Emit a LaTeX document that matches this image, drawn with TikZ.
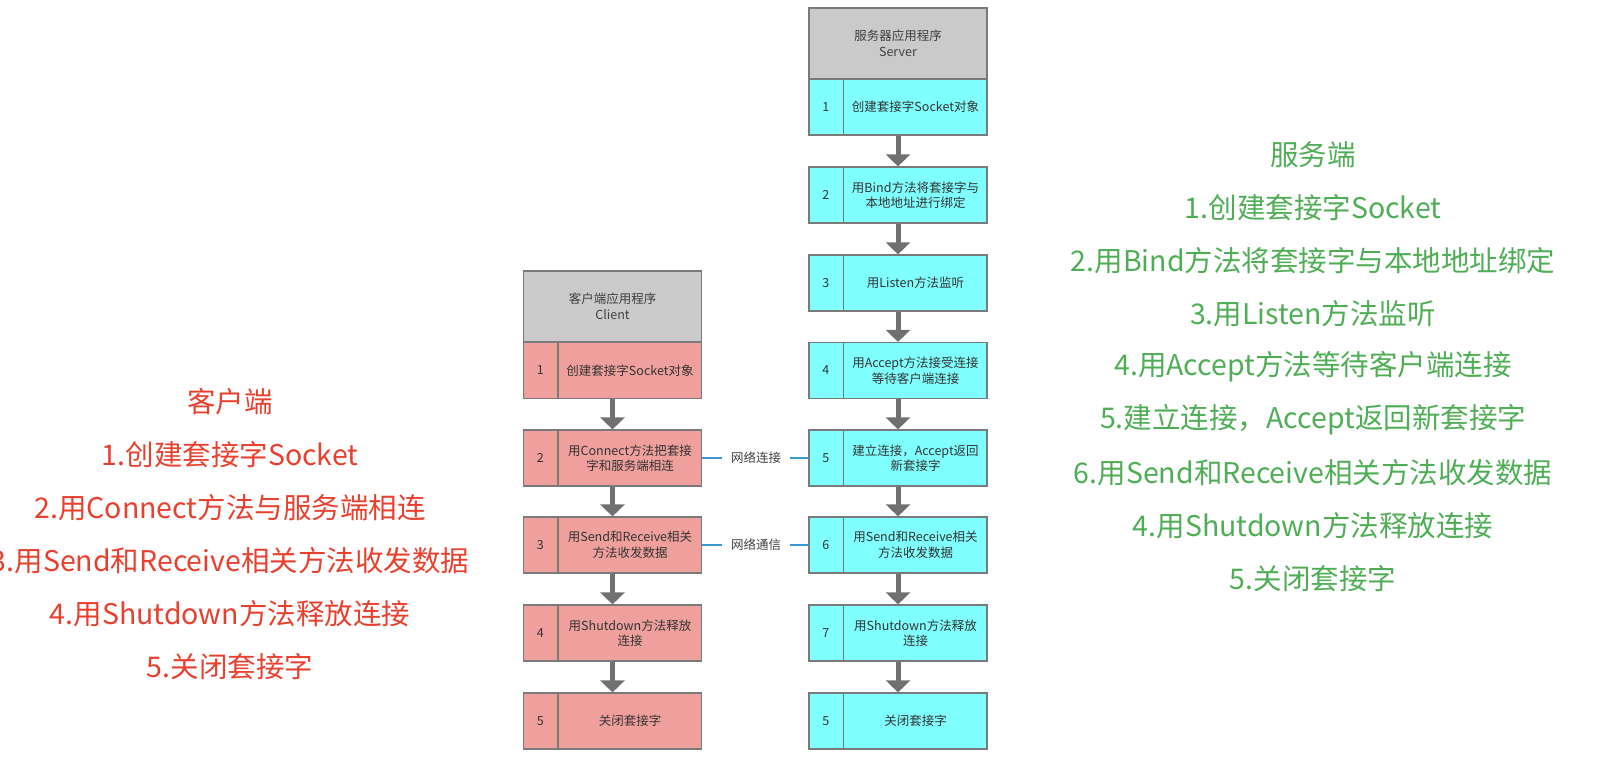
\documentclass[tikz,border=0pt]{standalone}
\usepackage{fontspec}
\setmainfont{Noto Sans CJK SC}
\usetikzlibrary{arrows.meta}
\definecolor{cyanbox}{HTML}{80FFFF}
\definecolor{pinkbox}{HTML}{F0A09C}
\definecolor{headgray}{HTML}{CACACA}
\definecolor{edgegray}{HTML}{7A7A7A}
\definecolor{arrgray}{HTML}{707070}
\definecolor{linkblue}{HTML}{3A9AD0}
\definecolor{redtxt}{HTML}{E8402E}
\definecolor{greentxt}{HTML}{4FAE55}
\tikzset{
  rowbox/.style={draw=edgegray, line width=1.2pt, minimum width=178pt, minimum height=56pt, inner sep=0pt},
  headbox/.style={draw=edgegray, line width=1.2pt, fill=headgray, minimum width=178pt, minimum height=71pt, inner sep=0pt, align=center, font=\fontsize{12.5}{15.5}\selectfont, text=black!75},
  celltxt/.style={align=center, font=\fontsize{12.5}{15.5}\selectfont, text=black!80, inner sep=0pt},
  flowarrow/.style={draw=arrgray, line width=5pt, -{Triangle[width=24pt,length=12pt]}},
  linkline/.style={draw=linkblue, line width=1.5pt},
  linklabel/.style={font=\fontsize{12.5}{15}\selectfont, text=black!75, inner xsep=9pt},
  bigred/.style={font=\fontsize{28.5}{33}\selectfont, text=redtxt},
  biggreen/.style={font=\fontsize{28.5}{33}\selectfont, text=greentxt}
}
% \mystep{name}{center x}{center y}{number}{text}{fill}
\newcommand{\mystep}[6]{%
  \node[rowbox, fill=#6] (#1) at (#2,#3) {};
  \draw[edgegray, line width=1.2pt] ([xshift=35pt]#1.north west) -- ([xshift=35pt]#1.south west);
  \node[celltxt] (#1n) at ([xshift=17.5pt]#1.west) {#4};
  \node[celltxt] (#1t) at ([xshift=17.5pt]#1.center) {#5};
}
\begin{document}
\begin{tikzpicture}[x=1pt,y=-1pt]
\useasboundingbox (0,0) rectangle (1604,766);
% server column
\node[headbox] (sh) at (898,43.5) {服务器应用程序\\Server};
\mystep{s1}{898}{107}{1}{创建套接字Socket对象}{cyanbox}
\mystep{s2}{898}{195}{2}{用Bind方法将套接字与\\本地地址进行绑定}{cyanbox}
\mystep{s3}{898}{283}{3}{用Listen方法监听}{cyanbox}
\mystep{s4}{898}{370.5}{4}{用Accept方法接受连接\\等待客户端连接}{cyanbox}
\mystep{s5}{898}{458}{5}{建立连接，Accept返回\\新套接字}{cyanbox}
\mystep{s6}{898}{545}{6}{用Send和Receive相关\\方法收发数据}{cyanbox}
\mystep{s7}{898}{633}{7}{用Shutdown方法释放\\连接}{cyanbox}
\mystep{s8}{898}{721}{5}{关闭套接字}{cyanbox}
% client column
\node[headbox] (ch) at (612.5,306.5) {客户端应用程序\\Client};
\mystep{c1}{612.5}{370.5}{1}{创建套接字Socket对象}{pinkbox}
\mystep{c2}{612.5}{458}{2}{用Connect方法把套接\\字和服务端相连}{pinkbox}
\mystep{c3}{612.5}{545}{3}{用Send和Receive相关\\方法收发数据}{pinkbox}
\mystep{c4}{612.5}{633}{4}{用Shutdown方法释放\\连接}{pinkbox}
\mystep{c5}{612.5}{721}{5}{关闭套接字}{pinkbox}
% arrows
\foreach \a/\b in {s1/s2,s2/s3,s3/s4,s4/s5,s5/s6,s6/s7,s7/s8,c1/c2,c2/c3,c3/c4,c4/c5}
  \draw[flowarrow] (\a.south) -- (\b.north);
% links
\node[linklabel] (l1) at (756,458) {网络连接};
\node[linklabel] (l2) at (756,545) {网络通信};
\draw[linkline] (c2.east) -- (l1.west);
\draw[linkline] (l1.east) -- (s5.west);
\draw[linkline] (c3.east) -- (l2.west);
\draw[linkline] (l2.east) -- (s6.west);
% left red text
\node[bigred] (r0) at (230,402) {客户端};
\node[bigred] (r1) at (230,455) {1.创建套接字Socket};
\node[bigred] (r2) at (230,508) {2.用Connect方法与服务端相连};
\node[bigred] (r3) at (230,561) {3.用Send和Receive相关方法收发数据};
\node[bigred] (r4) at (230,614) {4.用Shutdown方法释放连接};
\node[bigred] (r5) at (230,667) {5.关闭套接字};
% right green text
\node[biggreen] (g0) at (1313,155) {服务端};
\node[biggreen] (g1) at (1313,208) {1.创建套接字Socket};
\node[biggreen] (g2) at (1313,261) {2.用Bind方法将套接字与本地地址绑定};
\node[biggreen] (g3) at (1313,314) {3.用Listen方法监听};
\node[biggreen] (g4) at (1313,367) {4.用Accept方法等待客户端连接};
\node[biggreen] (g5) at (1313,420) {5.建立连接，Accept返回新套接字};
\node[biggreen] (g6) at (1313,473) {6.用Send和Receive相关方法收发数据};
\node[biggreen] (g7) at (1313,526) {4.用Shutdown方法释放连接};
\node[biggreen] (g8) at (1313,579) {5.关闭套接字};
\end{tikzpicture}
\end{document}
